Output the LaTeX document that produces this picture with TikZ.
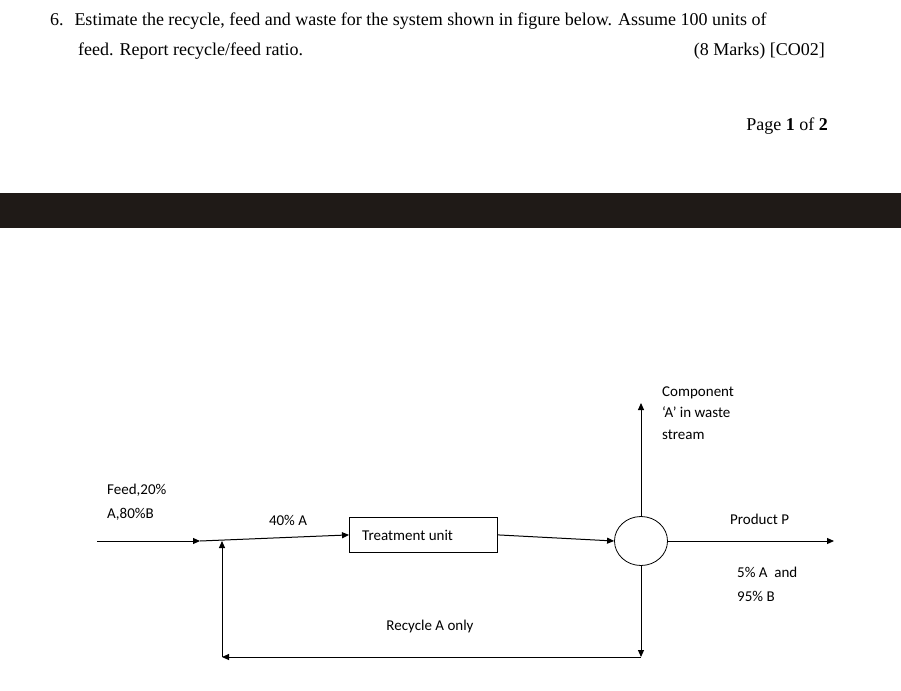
\documentclass[tikz,border=0pt]{standalone}
\usepackage{fontspec}
\setmainfont{Liberation Serif}
\newfontfamily\dfont{Carlito}
\usetikzlibrary{arrows.meta,shapes.geometric}
\begin{document}
\begin{tikzpicture}[x=1pt,y=-1pt,
  flow/.style={line width=1pt,-{Triangle[length=7pt,width=6pt]}},
  lbl/.style={font=\dfont\fontsize{15}{18}\selectfont,inner sep=0pt},
  qtext/.style={font=\fontsize{18}{22}\selectfont,inner sep=0pt}]
\useasboundingbox (0,0) rectangle (901,690);
\fill[white] (0,0) rectangle (901,690);
% question text
\node[qtext,anchor=base west] (q1) at (50,26) {6.\hspace{0.6em}Estimate the recycle, feed and waste for the system shown in figure below. Assume 100 units of};
\node[qtext,anchor=base west] (q2) at (78,56) {feed. Report recycle/feed ratio.};
\node[qtext,anchor=base east] (q3) at (825,56) {(8 Marks) [CO02]};
\node[qtext,anchor=base east] (pg) at (828,130) {Page \textbf{1} of \textbf{2}};
\fill[fill={rgb,255:red,31;green,26;blue,23}] (0,193) rectangle (901,228);
% diagram
\node[draw,line width=0.8pt,minimum width=148pt,minimum height=35pt,inner sep=0pt,anchor=north west,lbl] (tu) at (349,517) {};
\node[lbl,anchor=west] (tut) at (362,535) {Treatment unit};
\node[draw,line width=0.8pt,ellipse,minimum width=53pt,minimum height=49pt,inner sep=0pt] (sp) at (641,541) {};
\coordinate (fin) at (97,541);
\coordinate (mix) at (200,541);
\coordinate (mixr) at (222,541);
\coordinate (pout) at (834,541);
\coordinate (wout) at (641,403);
\coordinate (rb) at (641,657);
\coordinate (rl) at (222,657);
\draw[flow] (fin) -- (mix);
\draw[flow] (mix) -- (tu.west);
\draw[flow] (tu.east) -- (sp.west);
\draw[flow] (sp.east) -- (pout);
\draw[flow] (sp.north) -- (wout);
\draw[flow] (sp.south) -- (rb);
\draw[flow] (rb) -- (rl);
\draw[flow] (rl) -- (mixr);
\node[lbl,anchor=base west] (f1) at (107,494) {Feed,20\%};
\node[lbl,anchor=base west] (f2) at (107,518) {A,80\%B};
\node[lbl,anchor=base] (a40) at (288,525) {40\% A};
\node[lbl,anchor=base west] (c1) at (662,396) {Component};
\node[lbl,anchor=base west] (c2) at (662,417) {‘A’ in waste};
\node[lbl,anchor=base west] (c3) at (662,439) {stream};
\node[lbl,anchor=base west] (pp) at (730,524) {Product P};
\node[lbl,anchor=base west] (p1) at (737,577) {5\% A\ \ and};
\node[lbl,anchor=base west] (p2) at (737,601) {95\% B};
\node[lbl,anchor=base] (rec) at (430,630) {Recycle A only};
\end{tikzpicture}
\end{document}
